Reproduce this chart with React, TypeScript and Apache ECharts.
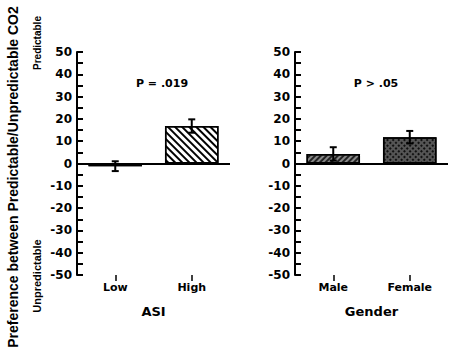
import React, { useEffect, useRef } from "react";
import * as echarts from "echarts";

const asiCategories = ["Low", "High"];
const asiMeans = [-1.2, 16.8];
const asiErrors = [2.2, 3.0];

const genderCategories = ["Male", "Female"];
const genderMeans = [4.3, 11.8];
const genderErrors = [3.0, 2.8];

const yTicks = { min: -50, max: 50, interval: 10 };
const pLabels = ["P = .019", "P > .05"];
const axisNames = ["ASI", "Gender"];

const FONT = "Liberation Sans, Arial, Helvetica, sans-serif";
const WIDE = "DejaVu Sans, Verdana, sans-serif";

const barStyles = [
  [
    {
      color: "#666",
      borderColor: "#000",
      borderWidth: 1.5,
      decal: {
        symbol: "rect",
        color: "#222",
        backgroundColor: "#999",
        dashArrayX: [3, 2],
        dashArrayY: [1.5, 1.5],
        rotation: 0,
      },
    },
    {
      color: "#fff",
      borderColor: "#000",
      borderWidth: 1.5,
      decal: {
        symbol: "rect",
        color: "#000",
        backgroundColor: "#fff",
        dashArrayX: [1, 0],
        dashArrayY: [1.2, 2.2],
        rotation: Math.PI / 4,
      },
    },
  ],
  [
    {
      color: "#888",
      borderColor: "#000",
      borderWidth: 1.5,
      decal: {
        symbol: "rect",
        color: "#222",
        backgroundColor: "#ddd",
        dashArrayX: [1, 0],
        dashArrayY: [1.4, 1.6],
        rotation: -Math.PI / 4,
      },
    },
    {
      color: "#555",
      borderColor: "#000",
      borderWidth: 1.5,
      decal: {
        symbol: "rect",
        color: "#111",
        backgroundColor: "#999",
        dashArrayX: [1.5, 1.2],
        dashArrayY: [1.5, 1.2],
        rotation: Math.PI / 4,
      },
    },
  ],
];

function buildPanel(idx: number, cats: string[], means: number[], errs: number[]) {
  const xAxis = {
    type: "category",
    gridIndex: idx,
    data: cats,
    name: axisNames[idx],
    nameLocation: "middle",
    nameGap: 30,
    nameTextStyle: { fontFamily: WIDE, fontSize: 13, fontWeight: "bold", color: "#000" },
    axisLine: { show: false, onZero: false },
    axisTick: { show: true, alignWithLabel: true, length: 6, lineStyle: { color: "#000", width: 1.5 } },
    axisLabel: { fontFamily: WIDE, fontSize: 11, fontWeight: "bold", color: "#000", margin: 7 },
    splitLine: { show: false },
  };
  const yAxis = {
    type: "value",
    gridIndex: idx,
    min: yTicks.min,
    max: yTicks.max,
    interval: yTicks.interval,
    axisLine: { show: true, onZero: false, lineStyle: { color: "#000", width: 2 } },
    axisTick: { show: true, inside: true, length: 6, lineStyle: { color: "#000", width: 2 } },
    minorTick: { show: true, splitNumber: 2, length: 6, lineStyle: { color: "#000", width: 2 } },
    axisLabel: { fontFamily: WIDE, fontSize: 12, fontWeight: "bold", color: "#000", margin: 5 },
    splitLine: { show: false },
  };
  const bar = {
    type: "bar",
    xAxisIndex: idx,
    yAxisIndex: idx,
    barWidth: "70%",
    data: means.map((v, i) => ({ value: v, itemStyle: barStyles[idx][i] })),
    markLine: {
      silent: true,
      symbol: "none",
      label: { show: false },
      lineStyle: { color: "#000", width: 2, type: "solid" },
      data: [{ yAxis: 0 }],
    },
    z: 2,
  };
  const err = {
    type: "custom",
    xAxisIndex: idx,
    yAxisIndex: idx,
    z: 5,
    data: means.map((m, i) => [i, m - errs[i], m + errs[i]]),
    renderItem: (params: any, api: any) => {
      const x = api.value(0);
      const lo = api.coord([x, api.value(1)]);
      const hi = api.coord([x, api.value(2)]);
      const cap = 3.5;
      const style = { stroke: "#000", lineWidth: 2 };
      return {
        type: "group",
        children: [
          { type: "line", shape: { x1: hi[0], y1: hi[1], x2: lo[0], y2: lo[1] }, style },
          { type: "line", shape: { x1: hi[0] - cap, y1: hi[1], x2: hi[0] + cap, y2: hi[1] }, style },
          { type: "line", shape: { x1: lo[0] - cap, y1: lo[1], x2: lo[0] + cap, y2: lo[1] }, style },
        ],
      };
    },
  };
  return { xAxis, yAxis, series: [bar, err] };
}

const rotText = (text: string, x: number, y: number, size: number, family: string) => ({
  type: "text",
  x,
  y,
  rotation: Math.PI / 2,
  style: {
    text,
    fontFamily: family,
    fontSize: size,
    fontWeight: "bold",
    fill: "#000",
    textAlign: "center",
    textVerticalAlign: "middle",
  },
});

export default function App() {
  const ref = useRef<HTMLDivElement>(null);
  useEffect(() => {
    if (!ref.current) return;
    const chart = echarts.init(ref.current, null, { renderer: "svg" });
    const p0 = buildPanel(0, asiCategories, asiMeans, asiErrors);
    const p1 = buildPanel(1, genderCategories, genderMeans, genderErrors);
    chart.setOption({
      animation: false,
      backgroundColor: "#fff",
      grid: [
        { left: 77, top: 52, width: 153, height: 223 },
        { left: 295, top: 52, width: 153, height: 223 },
      ],
      xAxis: [p0.xAxis, p1.xAxis],
      yAxis: [p0.yAxis, p1.yAxis],
      series: [...p0.series, ...p1.series],
      graphic: [
        rotText("Preference between Predictable/Unpredictable CO2", 13, 177, 14, FONT),
        rotText("Predictable", 37, 43, 10, FONT),
        rotText("Unpredictable", 37, 276, 11, FONT),
        {
          type: "text",
          x: 162,
          y: 83,
          style: {
            text: pLabels[0],
            fontFamily: WIDE,
            fontSize: 11,
            fontWeight: "bold",
            fill: "#000",
            textAlign: "center",
            textVerticalAlign: "middle",
          },
        },
        {
          type: "text",
          x: 376,
          y: 83,
          style: {
            text: pLabels[1],
            fontFamily: WIDE,
            fontSize: 11,
            fontWeight: "bold",
            fill: "#000",
            textAlign: "center",
            textVerticalAlign: "middle",
          },
        },
      ],
    });
    return () => chart.dispose();
  }, []);
  return (
    <div
      ref={ref}
      style={{ position: "fixed", left: 0, top: 0, width: 474, height: 355, background: "#fff" }}
    />
  );
}
